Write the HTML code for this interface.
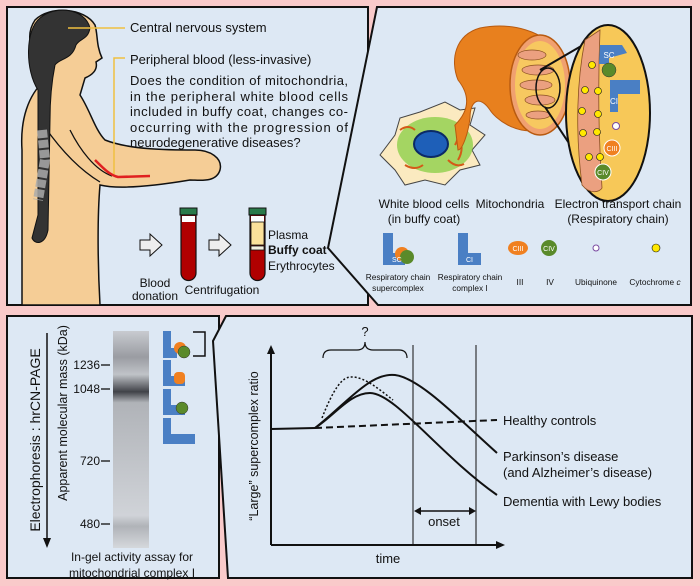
<!DOCTYPE html>
<html><head><meta charset="utf-8"><style>
html,body{margin:0;padding:0;background:#f9caca;}
svg{display:block;font-family:"Liberation Sans",Arial,sans-serif;}
</style></head><body>
<svg width="700" height="586" viewBox="0 0 700 586" xmlns="http://www.w3.org/2000/svg">
<rect width="700" height="586" fill="#f9caca"/>
<!-- top-left panel -->
<rect x="7" y="7" width="361" height="298" fill="#dde8f4" stroke="#111" stroke-width="2"/>
<!-- top-right panel -->
<polygon points="377,7 691,7 691,305 378,305 328,248" fill="#dde8f4" stroke="#111" stroke-width="2" stroke-linejoin="miter"/>

<!-- bottom-left -->
<rect x="7" y="316" width="212" height="262" fill="#dde8f4" stroke="#111" stroke-width="2"/>
<!-- bottom-right -->
<polygon points="226,316 692,316 692,578 228,578 213,341" fill="#dde8f4" stroke="#111" stroke-width="2"/>

<!-- person -->
<path d="M22,305 L22,150 C20,120 28,95 45,80 L45,65 C30,55 25,35 35,20 C50,5 85,8 95,25 C98,35 96,45 102,58 L96,62 C98,70 92,75 85,78 L80,95 C90,110 95,130 105,140 C130,150 170,150 195,150 C210,150 223,158 220,170 C216,183 200,180 190,180 C160,185 120,190 100,185 C97,220 98,270 100,305 Z" fill="#f5cd96" stroke="#111" stroke-width="1.5"/>
<path d="M40,120 C60,150 80,170 100,182" fill="none" stroke="#111" stroke-width="1.3"/>
<path d="M70,130 C80,150 95,170 112,176" fill="none" stroke="#111" stroke-width="1.3"/>
<path d="M38,215 L38,90 C25,70 25,30 40,18 C55,5 85,8 90,28 C88,40 80,38 76,45 C72,60 60,58 55,65 C52,80 50,100 50,120 L48,230 C45,245 35,245 32,238 Z" fill="#333" stroke="#111" stroke-width="1"/>
<path d="M42,130 L45,160 L38,200" stroke="#aaa" stroke-width="10" fill="none" stroke-dasharray="8,2" opacity="0.85"/>
<path d="M95,160 C105,170 110,175 118,177 L150,176" stroke="#e02020" stroke-width="2.5" fill="none"/>
<!-- leader lines -->
<polyline points="68,28 125,28" stroke="#f0c040" stroke-width="1.5" fill="none"/>
<polyline points="125,58 114,58 114,174" stroke="#f0c040" stroke-width="1.5" fill="none"/>
<g font-size="13" fill="#111">
<text x="130" y="32">Central nervous system</text>
<text x="130" y="64">Peripheral blood  (less-invasive)</text>
<text x="130" y="85" textLength="218" lengthAdjust="spacing">Does the condition of mitochondria,</text>
<text x="130" y="101" textLength="218" lengthAdjust="spacing">in  the peripheral white blood cells</text>
<text x="130" y="116" textLength="218" lengthAdjust="spacing">included in buffy coat, changes co-</text>
<text x="130" y="132" textLength="218" lengthAdjust="spacing">occurring  with  the  progression  of</text>
<text x="130" y="147">neurodegenerative diseases?</text>
</g>
<!-- arrows -->
<path d="M140,240 h10 v-6 l12,11 l-12,11 v-6 h-10 z" fill="#eee" stroke="#111" stroke-width="1"/>
<path d="M209,240 h10 v-6 l12,11 l-12,11 v-6 h-10 z" fill="#eee" stroke="#111" stroke-width="1"/>
<!-- tube 1 -->
<rect x="180" y="208" width="17" height="7" fill="#2a7a4a" stroke="#111"/>
<path d="M181,215 h15 v58 a7.5,7.5 0 0 1 -15,0 z" fill="#b00000" stroke="#111" stroke-width="1.2"/>
<rect x="182" y="216" width="13" height="6" fill="#fff"/>
<!-- tube 2 -->
<rect x="249" y="208" width="17" height="7" fill="#2a7a4a" stroke="#111"/>
<path d="M250,215 h15 v58 a7.5,7.5 0 0 1 -15,0 z" fill="#b00000" stroke="#111" stroke-width="1.2"/>
<rect x="251" y="216" width="13" height="6" fill="#fff"/>
<rect x="251" y="222" width="13" height="23" fill="#fbe09a" stroke="#111" stroke-width="0.8"/>
<rect x="251" y="246" width="13" height="4" fill="#f3eee0" stroke="#111" stroke-width="0.8"/>
<g font-size="12" fill="#111">
<text x="268" y="239">Plasma</text>
<text x="268" y="254" font-weight="bold">Buffy coat</text>
<text x="268" y="270">Erythrocytes</text>
<text x="155" y="287" text-anchor="middle">Blood</text>
<text x="155" y="300" text-anchor="middle">donation</text>
<text x="222" y="294" text-anchor="middle">Centrifugation</text>
</g>

<!-- WBC -->
<path d="M380,155 L395,135 L400,118 L420,112 L445,102 L460,110 L475,108 L470,125 L485,135 L472,150 L480,165 L460,170 L445,185 L425,180 L405,185 L395,170 Z" fill="#fbeac0" stroke="#444" stroke-width="1"/>
<ellipse cx="435" cy="145" rx="38" ry="28" fill="#8fd04a" opacity="0.8"/>
<ellipse cx="431" cy="144" rx="17" ry="13" fill="#1e5fb8" stroke="#0b2a66" stroke-width="2"/>
<path d="M400,130 q8,-6 15,0 M455,125 q6,10 0,20 M405,165 q10,6 18,0 M448,160 q8,8 16,4 M460,140 q4,10 -2,20" stroke="#d45a18" stroke-width="2" fill="none"/>
<!-- mitochondria -->
<path d="M455,125 C470,110 470,95 458,80 C450,60 455,35 480,28 C510,22 545,30 560,55 C570,80 565,120 540,130 C515,135 495,118 490,110 C480,95 470,100 470,118 C468,135 462,150 458,150 Z" fill="#e8801e" stroke="#b85a10" stroke-width="1"/>
<ellipse cx="540" cy="85" rx="30" ry="50" fill="#f0a070" stroke="#b85a10" stroke-width="1.5"/>
<ellipse cx="540" cy="85" rx="25" ry="44" fill="#f7c860"/>
<g fill="#eba080" stroke="#8a5020" stroke-width="0.7">
<ellipse cx="532" cy="55" rx="14" ry="5"/><ellipse cx="538" cy="70" rx="16" ry="5"/><ellipse cx="536" cy="85" rx="16" ry="5"/><ellipse cx="540" cy="100" rx="15" ry="5"/><ellipse cx="538" cy="115" rx="12" ry="4"/>
</g>
<ellipse cx="548" cy="88" rx="12" ry="20" fill="none" stroke="#111" stroke-width="1.5"/>
<line x1="540" y1="70" x2="595" y2="38" stroke="#111" stroke-width="2"/>
<line x1="545" y1="107" x2="600" y2="190" stroke="#111" stroke-width="2"/>
<!-- ETC ellipse -->
<ellipse cx="608" cy="113" rx="42" ry="88" fill="#f7c858" stroke="#111" stroke-width="2"/>
<path d="M585,40 C577,80 575,130 582,185 C590,195 600,192 602,188 C598,130 598,80 600,30 Z" fill="#eba080" stroke="#8a5020" stroke-width="0.8"/>
<path d="M600,45 h22 l5,8 l-18,5 v6 h-10 z" fill="#4a7fc4"/>
<circle cx="609" cy="70" r="7" fill="#5a8a2a" stroke="#333" stroke-width="0.5"/>
<text x="609" y="58" font-size="8" fill="#fff" text-anchor="middle">SC</text>
<path d="M610,80 h30 v14 h-22 v18 h-8 z" fill="#4a7fc4"/>
<text x="614" y="104" font-size="8" fill="#fff" text-anchor="middle">CI</text>
<circle cx="616" cy="126" r="3.5" fill="#fff" stroke="#7a4aa0"/>
<circle cx="612" cy="148" r="8" fill="#f08020" stroke="#fff" stroke-width="1"/>
<text x="612" y="151" font-size="7" fill="#fff" text-anchor="middle">CIII</text>
<circle cx="603" cy="172" r="8" fill="#5a8a2a" stroke="#fff" stroke-width="1"/>
<text x="603" y="175" font-size="7" fill="#fff" text-anchor="middle">CIV</text>
<g fill="#ffe800" stroke="#111" stroke-width="0.6">
<circle cx="592" cy="65" r="3.5"/><circle cx="585" cy="90" r="3.5"/><circle cx="598" cy="91" r="3.5"/><circle cx="582" cy="111" r="3.5"/><circle cx="598" cy="114" r="3.5"/><circle cx="583" cy="133" r="3.5"/><circle cx="597" cy="132" r="3.5"/><circle cx="589" cy="157" r="3.5"/><circle cx="600" cy="157" r="3.5"/>
</g>
<g font-size="12" fill="#111" text-anchor="middle">
<text x="424" y="208">White blood cells</text>
<text x="424" y="223">(in buffy coat)</text>
<text x="510" y="208">Mitochondria</text>
<text x="618" y="208">Electron transport chain</text>
<text x="618" y="223">(Respiratory chain)</text>
</g>
<!-- legend -->
<path d="M383,233 h10 v20 h12 v12 h-22 z" fill="#4a7fc4"/>
<circle cx="402" cy="254" r="7" fill="#f08020"/><circle cx="407" cy="257" r="7" fill="#5a8a2a"/>
<text x="392" y="262" font-size="7" fill="#fff">SC</text>
<path d="M458,233 h10 v20 h13 v12 h-23 z" fill="#4a7fc4"/>
<text x="466" y="262" font-size="7" fill="#fff">CI</text>
<ellipse cx="518" cy="248" rx="10" ry="7" fill="#f08020"/><text x="518" y="251" font-size="7" fill="#fff" text-anchor="middle">CIII</text>
<circle cx="549" cy="248" r="8" fill="#5a8a2a"/><text x="549" y="251" font-size="7" fill="#fff" text-anchor="middle">CIV</text>
<circle cx="596" cy="248" r="3" fill="#fff" stroke="#7a4aa0"/>
<circle cx="656" cy="248" r="4" fill="#ffe800" stroke="#111" stroke-width="0.6"/>
<g font-size="8.3" fill="#111" text-anchor="middle">
<text x="398" y="280">Respiratory chain</text><text x="398" y="291">supercomplex</text>
<text x="470" y="280">Respiratory chain</text><text x="470" y="291">complex I</text>
<text x="520" y="285">III</text><text x="550" y="285">IV</text>
<text x="596" y="285">Ubiquinone</text><text x="655" y="285">Cytochrome <tspan font-style="italic">c</tspan></text>
</g>

<!-- gel -->
<defs><linearGradient id="g" x1="0" y1="0" x2="0" y2="1">
<stop offset="0" stop-color="#c8cbd0"/><stop offset="0.12" stop-color="#9a9ca2"/><stop offset="0.2" stop-color="#c0c3c8"/><stop offset="0.28" stop-color="#404248"/><stop offset="0.33" stop-color="#b0b3b8"/><stop offset="0.85" stop-color="#d0d3d8"/><stop offset="0.9" stop-color="#b0b3b8"/><stop offset="1" stop-color="#d5d8dc"/>
</linearGradient></defs>
<rect x="113" y="331" width="36" height="217" fill="url(#g)"/>
<g font-size="12" fill="#111" text-anchor="end">
<text x="100" y="369">1236</text><text x="100" y="393">1048</text><text x="100" y="465">720</text><text x="100" y="528">480</text>
</g>
<g stroke="#111" stroke-width="1.3">
<line x1="101" y1="365" x2="110" y2="365"/><line x1="101" y1="389" x2="110" y2="389"/><line x1="101" y1="461" x2="110" y2="461"/><line x1="101" y1="524" x2="110" y2="524"/>
</g>
<line x1="47" y1="333" x2="47" y2="540" stroke="#111" stroke-width="1.5"/>
<polygon points="43,538 51,538 47,548" fill="#111"/>
<text transform="translate(40,440) rotate(-90)" font-size="14" text-anchor="middle" fill="#111">Electrophoresis : hrCN-PAGE</text>
<text transform="translate(67,413) rotate(-90)" font-size="12.5" text-anchor="middle" fill="#111">Apparent molecular mass (kDa)</text>
<g fill="#4a7fc4">
<path d="M163,331 h8 v17 h6 v10 h-14 z"/><path d="M163,360 h8 v16 h14 v10 h-22 z"/><path d="M163,389 h8 v16 h14 v10 h-22 z"/><path d="M163,418 h8 v16 h24 v10 h-32 z"/>
</g>
<circle cx="180" cy="348" r="6" fill="#f08020"/><circle cx="184" cy="352" r="6" fill="#5a8a2a" stroke="#333" stroke-width="0.5"/>
<rect x="174" y="372" width="11" height="12" rx="4" fill="#f08020"/>
<circle cx="182" cy="408" r="6" fill="#5a8a2a" stroke="#333" stroke-width="0.5"/>
<polyline points="193,332 205,332 205,356 193,356" fill="none" stroke="#111" stroke-width="1.5"/>
<g font-size="12" fill="#111" text-anchor="middle">
<text x="132" y="561">In-gel activity assay for</text><text x="132" y="577">mitochondrial complex I</text>
</g>

<!-- graph -->
<line x1="271" y1="545" x2="498" y2="545" stroke="#111" stroke-width="2"/>
<polygon points="496,541 505,545 496,549" fill="#111"/>
<line x1="271" y1="545" x2="271" y2="352" stroke="#111" stroke-width="2"/>
<polygon points="267,354 271,345 275,354" fill="#111"/>
<line x1="413" y1="345" x2="413" y2="545" stroke="#111" stroke-width="1"/>
<line x1="476" y1="345" x2="476" y2="545" stroke="#111" stroke-width="1"/>
<path d="M323,358 q0,-8 8,-8 h26 q8,0 8,-8 q0,8 8,8 h26 q8,0 8,8" fill="none" stroke="#111" stroke-width="1.2"/>
<text x="365" y="336" font-size="13" text-anchor="middle" fill="#111">?</text>
<line x1="271" y1="429" x2="315" y2="428" stroke="#111" stroke-width="2"/>
<line x1="315" y1="428" x2="497" y2="420" stroke="#111" stroke-width="2" stroke-dasharray="7,4"/>
<path d="M315,428 C345,405 370,372 395,375 C420,378 460,420 497,453" fill="none" stroke="#111" stroke-width="2"/>
<path d="M315,428 C335,415 350,393 370,393 C395,393 440,455 497,495" fill="none" stroke="#111" stroke-width="2"/>
<path d="M322,418 C333,390 342,376 352,377 C365,377 380,390 393,400" fill="none" stroke="#111" stroke-width="1.5" stroke-dasharray="2,2"/>
<line x1="418" y1="511" x2="472" y2="511" stroke="#111" stroke-width="1.5"/>
<polygon points="414,511 421,507 421,515" fill="#111"/><polygon points="476,511 469,507 469,515" fill="#111"/>
<g font-size="13" fill="#111">
<text x="444" y="526" text-anchor="middle">onset</text>
<text x="388" y="563" text-anchor="middle">time</text>
<text x="503" y="425">Healthy controls</text>
<text x="503" y="461">Parkinson’s disease</text>
<text x="503" y="477">(and Alzheimer’s disease)</text>
<text x="503" y="506">Dementia with Lewy bodies</text>
</g>
<text transform="translate(258,446) rotate(-90)" font-size="12.5" text-anchor="middle" fill="#111">“Large” supercomplex ratio</text>
</svg>
</body></html>
